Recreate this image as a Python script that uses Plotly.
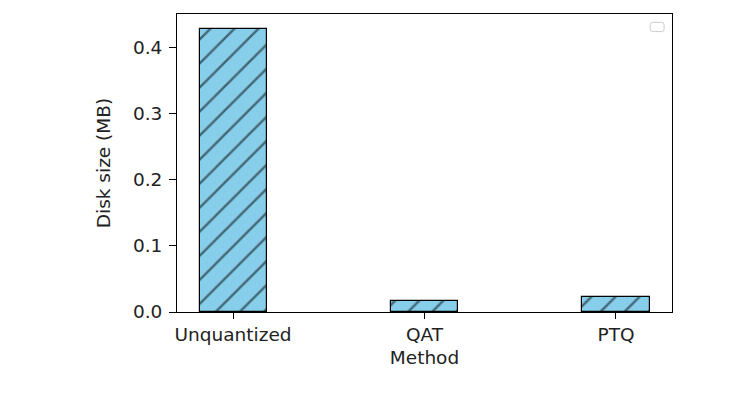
import plotly.graph_objects as go

methods = ["Unquantized", "QAT", "PTQ"]
disk_size_mb = [0.4286, 0.0171, 0.0222]
y_ticks = [0.0, 0.1, 0.2, 0.3, 0.4]

FS = 18.5
TXT = "#222"

fig = go.Figure()
fig.add_trace(go.Bar(
    x=[0, 1, 2], y=disk_size_mb, width=0.35,
    marker=dict(color="#87CEEB", line=dict(color="black", width=1.2),
                pattern=dict(shape="/", fgcolor="black", bgcolor="#87CEEB",
                             size=17, solidity=0.14)),
    showlegend=False,
))

fig.update_layout(
    width=747, height=409,
    margin=dict(l=169, r=83, t=6, b=105),
    paper_bgcolor="white", plot_bgcolor="white",
    font=dict(family="DejaVu Sans", size=FS, color=TXT),
    bargap=0,
    xaxis=dict(
        range=[-0.2925, 2.2925], tickmode="array", tickvals=[0, 1, 2], ticktext=methods,
        showline=True, linecolor="black", linewidth=1, mirror=True,
        ticks="outside", ticklen=6, tickcolor="black", showgrid=False, zeroline=False,
        title=dict(text="Method", font=dict(family="DejaVu Sans", size=FS, color=TXT), standoff=6),
        tickfont=dict(family="DejaVu Sans", size=FS, color=TXT),
    ),
    yaxis=dict(
        range=[0, 0.4508], tickmode="array", tickvals=y_ticks,
        ticktext=[f"{v:.1f}" for v in y_ticks],
        showline=True, linecolor="black", linewidth=1, mirror=True,
        ticks="outside", ticklen=7, tickcolor="black", showgrid=False, zeroline=False,
        ticklabelstandoff=3,
        title=dict(text="Disk size (MB)", font=dict(family="DejaVu Sans", size=FS, color=TXT), standoff=17),
        tickfont=dict(family="DejaVu Sans", size=FS, color=TXT),
    ),
)

# empty legend frame (top-right corner, as in the reference)
fig.add_shape(
    type="path", xref="paper", yref="paper",
    path="M 0.961,0.972 L 0.979,0.972 Q 0.984,0.972 0.984,0.964 L 0.984,0.949 Q 0.984,0.941 0.979,0.941 L 0.961,0.941 Q 0.956,0.941 0.956,0.949 L 0.956,0.964 Q 0.956,0.972 0.961,0.972 Z",
    line=dict(color="#cccccc", width=1), fillcolor="rgba(255,255,255,0.8)",
)

fig.write_html("out.html")
